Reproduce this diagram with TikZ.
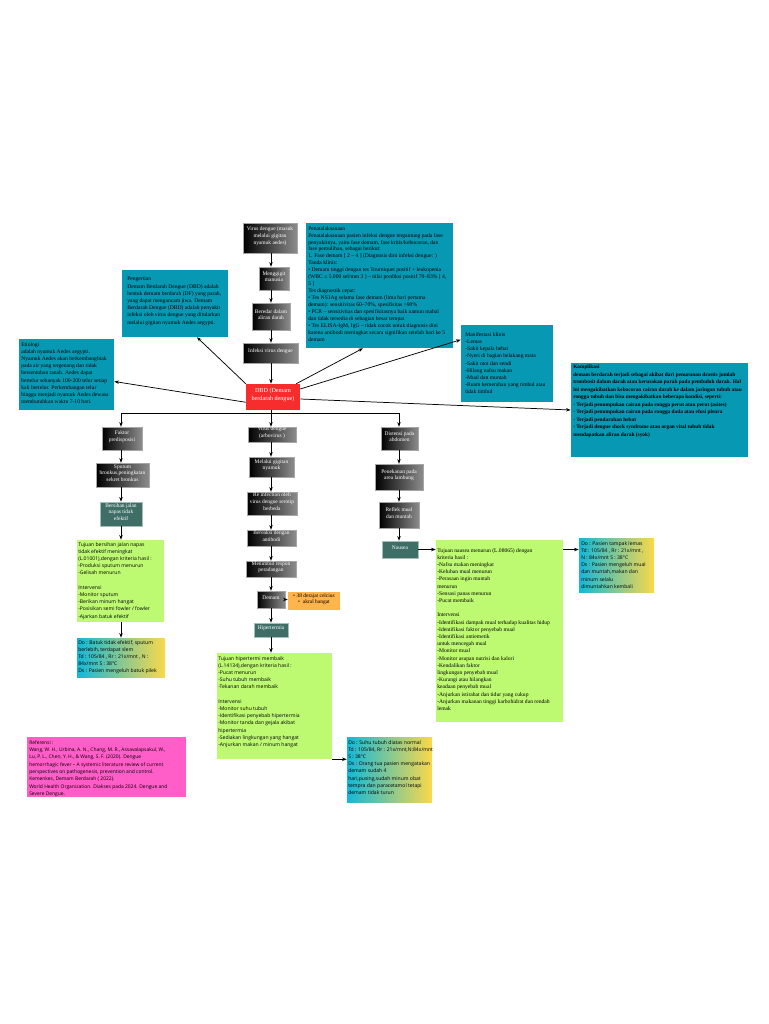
\documentclass[tikz,border=0pt]{standalone}
\usepackage{fontspec}
\setmainfont{Liberation Serif}
\newfontfamily\osans{Open Sans}
\usetikzlibrary{fit,calc,arrows.meta}
\definecolor{tealc}{HTML}{0799B4}
\definecolor{limec}{HTML}{BDFA72}
\definecolor{cyanc}{HTML}{14B8D8}
\definecolor{yelc}{HTML}{FBD84A}
\definecolor{tgc}{HTML}{3F6E66}
\definecolor{tgb}{HTML}{A7BDB8}
\definecolor{redc}{HTML}{F72C2C}
\definecolor{orc}{HTML}{FFB44C}
\definecolor{pinkc}{HTML}{FF5DC8}
\newcommand\fs{\fontsize{4.2}{5.4}\selectfont}
\newcommand\fd{\fontsize{4.1}{5.0}\selectfont}
\newcommand\fp{\fontsize{4.2}{5.2}\selectfont}
\newcommand\fk{\fontsize{4.0}{5.6}\selectfont\bfseries}
\newcommand\fo{\osans\fontsize{3.8}{5.4}\selectfont}
\begin{document}
\begin{tikzpicture}[x=0.75pt,y=-0.75pt,
  darkbox/.style={inner sep=0, left color=black, right color=black!45, draw=black!35, line width=0.3pt, text=white, align=center, font=\fd},
  tealbox/.style={inner sep=0, fill=tealc},
  limebox/.style={inner sep=0, fill=limec},
  gradbox/.style={inner sep=0, left color=cyanc, right color=yelc},
  tgbox/.style={inner sep=0, fill=tgc, draw=tgb, line width=0.4pt, text=white, align=center, font=\fd},
  txt/.style={anchor=north west, inner sep=0, align=left},
  arr/.style={-{Stealth[length=3.5pt,width=2.6pt]}, line width=0.55pt},
  ln/.style={line width=0.55pt}]
\fill[white] (0,0) rectangle (768,1024);
\useasboundingbox (0,0) rectangle (768,1024);
\coordinate (cx) at (271,0);
\coordinate (lx) at (121,0);
\coordinate (rx) at (399,0);
\coordinate (hy) at (0,413);

% top chain
\node[darkbox, align=left, fit={(243,223)(297,253)}] (v1) {Virus dengue (masuk\\melalui gigitan\\nyamuk aedes)};
\node[darkbox, fit={(259,267)(289,290)}] (v2) {Menggigit\\manusia};
\node[darkbox, fit={(252,303)(290,330)}] (v3) {Beredar dalam\\aliran darah};
\node[darkbox, fit={(243,343)(298,363)}] (v4) {Infeksi virus dengue};
\node[inner sep=0, fill=redc, text=white, align=center, font=\fontsize{4.6}{5.6}\selectfont, fit={(246,384)(300,410)}] (dbd) {DBD (Demam\\berdarah dengue)};

% info boxes
\node[tealbox, fit={(306,223)(453,348)}] (pem) {};
\node[txt, font=\fp] (tpem) at (308,226) {Penatalaksanaan\\
Penatalaksanaan pasien infeksi dengue tergantung pada fase\\
penyakitnya, yaitu fase demam, fase kritis/kebocoran, dan\\
fase pemulihan, sebagai berikut:\\
1. Fase demam [ 2 – 4 ] (Diagnosis dini infeksi dengue: )\\
Tanda klinis:\\
• Demam tinggi dengan tes Tourniquet positif + leukopenia\\
(WBC ≤ 5.000 sel/mm 3 ) – nilai prediksi positif 70–83\% [ 4,\\
5 ]\\
Tes diagnostik cepat:\\
• Tes NS1Ag selama fase demam (lima hari pertama\\
demam): sensitivitas 60–70\%, spesifisitas >90\%\\
• PCR – sensitivitas dan spesifisitasnya baik namun mahal\\
dan tidak tersedia di sebagian besar tempat\\
• Tes ELISA-IgM, IgG – tidak cocok untuk diagnosis dini\\
karena antibodi meningkat secara signifikan setelah hari ke 5\\
demam};

\node[tealbox, fit={(122,270)(228,337)}] (peng) {};
\node[txt, font=\fs] (tpeng) at (127,277) {Pengertian\\
Demam Berdarah Dengue (DBD) adalah\\
bentuk demam berdarah (DF) yang parah,\\
yang dapat mengancam jiwa. Demam\\
Berdarah Dengue (DBD) adalah penyakit\\
infeksi oleh virus dengue yang ditularkan\\
melalui gigitan nyamuk Aedes aegypti.};

\node[tealbox, fit={(19,339)(114,410)}] (etio) {};
\node[txt, font=\fs] (tetio) at (21,342) {Etiologi\\
adalah nyamuk Aedes aegypti.\\
Nyamuk Aedes akan berkembangbiak\\
pada air yang tergenang dan tidak\\
bersentuhan tanah. Aedes dapat\\
bertelur sebanyak 100-200 telur setiap\\
kali bertelur. Perkembangan telur\\
hingga menjadi nyamuk Aedes dewasa\\
membutuhkan waktu 7-10 hari.};

\node[tealbox, fit={(461,325)(553,402)}] (man) {};
\node[txt, font=\fs] (tman) at (465,332) {Manifestasi klinis\\
-Lemas\\
-Sakit kepala hebat\\
-Nyeri di bagian belakang mata\\
-Sakit otot dan sendi\\
-Hilang nafsu makan\\
-Mual dan muntah\\
-Ruam kemerahan yang timbul atau\\
tidak timbul};

\node[tealbox, fit={(571,363)(748,457)}] (kom) {};
\node[txt, font=\fk] (tkom) at (573,365) {Komplikasi\\
demam berdarah terjadi sebagai akibat dari penurunan drastis jumlah\\
trombosit dalam darah atau kerusakan parah pada pembuluh darah. Hal\\
ini mengakibatkan kebocoran cairan darah ke dalam jaringan tubuh atau\\
rongga tubuh dan bisa mengakibatkan beberapa kondisi, seperti:\\
· Terjadi penumpukan cairan pada rongga perut atau perut (asites)\\
· Terjadi penumpukan cairan pada rongga dada atau efusi pleura\\
· Terjadi pendarahan hebat\\
· Terjadi dengue shock syndrome atau organ vital tubuh tidak\\
mendapatkan aliran darah (syok)};

% left column
\node[darkbox, fit={(102,427)(142,450)}] (f1) {Faktor\\predisposisi};
\node[darkbox, fit={(96,463)(149,487)}] (f2) {Sputum\\bronkus,peningkatan\\sekret bronkus};
\node[tgbox, fit={(100,502)(142,526)}] (f3) {Bersihan jalan\\napas tidak\\efektif};
\node[limebox, fit={(77,540)(164,622)}] (g1) {};
\node[txt, font=\fo] (tg1) at (78,542) {Tujuan bersihan jalan napas\\
tidak efektif meningkat\\
(L.01001),dengan kriteria hasil :\\
-Produksi sputum menurun\\
-Gelisah menurun\\[5.4pt]
Intervensi\\
-Monitor sputum\\
-Berikan minum hangat\\
-Posisikan semi fowler / fowler\\
-Ajarkan batuk efektif};
\node[gradbox, fit={(77,638)(165,677)}] (d1) {};
\node[txt, font=\fo] (td1) at (78,640) {Do : Batuk tidak efektif, sputum\\
berlebih, terdapat slem\\
Td : 105/84 , Rr : 21x/mnt , N :\\
84x/mnt S : 38°C\\
Ds : Pasien mengeluh batuk pilek};

% middle column
\node[darkbox, fit={(248,427)(296,442)}] (m1) {Virus dengue\\(arbovirus )};
\node[darkbox, fit={(249,457)(294,477)}] (m2) {Melalui gigitan\\nyamuk};
\node[darkbox, fit={(247,492)(297,515)}] (m3) {Re infection oleh\\virus dengue serotip\\berbeda};
\node[darkbox, fit={(247,530)(296,546)}] (m4) {Bereaksi dengan\\antibodi};
\node[darkbox, fit={(246,561)(296,577)}] (m5) {Menimbul respon\\peradangan};
\node[darkbox, fit={(257,591)(285,608)}] (m6) {Demam};
\node[inner sep=0, fill=orc, align=center, font=\fd, fit={(288,592)(340,610)}] (or1) {• 38 derajat celcius\\• \ akral hangat};
\node[tgbox, fit={(254,623)(288,637)}] (m7) {Hipertermia};
\node[limebox, fit={(217,653)(332,759)}] (g2) {};
\node[txt, font=\fo] (tg2) at (218,656) {Tujuan hipertermi membaik\\
(L.14134),dengan kriteria hasil :\\
-Pucat menurun\\
-Suhu tubuh membaik\\
-Tekanan darah membaik\\[5.4pt]
Intervensi\\
-Monitor suhu tubuh\\
-Identifikasi penyebab hipertermia\\
-Monitor tanda dan gejala akibat\\
hipertermia\\
-Sediakan lingkungan yang hangat\\
-Anjurkan makan / minum hangat};
\node[gradbox, fit={(347,737)(432,802)}] (d2) {};
\node[txt, font=\fo] (td2) at (348,740) {Do : Suhu tubuh diatas normal\\
Td : 105/84, Rr : 21x/mnt,N:84x/mnt\\
S : 38°C\\
Ds : Orang tua pasien mengatakan\\
demam sudah 4\\
hari,pusing,sudah minum obat\\
tempra dan paracetamol tetapi\\
demam tidak turun};

% right column
\node[darkbox, fit={(381,427)(418,450)}] (r1) {Distensi pada\\abdomen};
\node[darkbox, fit={(375,464)(423,490)}] (r2) {Penekanan pada\\area lambung};
\node[darkbox, fit={(379,502)(419,528)}] (r3) {Reflek mual\\dan muntah};
\node[tgbox, fit={(382,541)(418,558)}] (r4) {Nausea};
\node[limebox, fit={(436,540)(563,722)}] (g3) {};
\node[txt, font=\fs] (tg3) at (437,548) {Tujuan nausea menurun (L.08065) dengan\\
kriteria hasil :\\
-Nafsu makan meningkat\\
-Keluhan mual menurun\\
-Perasaan ingin muntah\\
menurun\\
-Sensasi panas menurun\\
-Pucat membaik\\[5.4pt]
Intervensi\\
-Identifikasi dampak mual terhadap kualitas hidup\\
-Identifikasi faktor penyebab mual\\
-Identifikasi antiemetik\\
untuk mencegah mual\\
-Monitor mual\\
-Monitor asupan nutrisi dan kalori\\
-Kendalikan faktor\\
lingkungan penyebab mual\\
-Kurangi atau hilangkan\\
keadaan penyebab mual\\
-Anjurkan istirahat dan tidur yang cukup\\
-Anjurkan makanan tinggi karbohidrat dan rendah\\
lemak};
\node[gradbox, fit={(579,538)(654,592)}] (d3) {};
\node[txt, font=\fo] (td3) at (581,541) {Do : Pasien tampak lemas\\
Td : 105/84 , Rr : 21x/mnt ,\\
N : 84x/mnt S : 38°C\\
Ds : Pasien mengeluh mual\\
dan muntah,makan dan\\
minum selalu\\
dimuntahkan kembali};

% referensi
\node[inner sep=0, fill=pinkc, fit={(27,737)(186,797)}] (ref) {};
\node[txt, font=\osans\fontsize{3.7}{5.5}\selectfont] (tref) at (29,740) {Referensi :\\
Wang, W. H., Urbina, A. N., Chang, M. R., Assavalapsakul, W.,\\
Lu, P. L., Chen, Y. H., \& Wang, S. F. (2020). Dengue\\
hemorrhagic fever – A systemic literature review of current\\
perspectives on pathogenesis, prevention and control.\\
Kemenkes, Demam Berdarah ( 2022).\\
World Health Organization. Diakses pada 2024. Dengue and\\
Severe Dengue.};

% connectors: top chain
\draw[arr] (v1.south -| cx) -- (v2.north -| cx);
\draw[arr] (v2.south -| cx) -- (v3.north -| cx);
\draw[arr] (v3.south -| cx) -- (v4.north -| cx);
\draw[arr] (v4.south -| cx) -- (dbd.north -| cx);
% from DBD
\draw[arr] (dbd.north west) -- ($(peng.south)+(22,0)$);
\draw[arr] ($(dbd.south west)+(0,-8)$) -- ($(etio.east)+(0,7)$);
\draw[arr] ($(dbd.north east)+(-4,0)$) -- ($(pem.south)+(-16.5,0)$);
\draw[arr] ($(dbd.east)+(0,-8)$) -- ($(man.north west)+(0,15)$);
\draw[arr] ($(dbd.east)+(0,2)$) -- (kom.west);
% branch
\draw[ln] (dbd.south -| cx) -- (cx |- hy);
\draw[ln] (lx |- hy) -- (rx |- hy);
\draw[arr] (lx |- hy) -- (f1.north -| lx);
\draw[arr] (cx |- hy) -- (m1.north -| cx);
\draw[arr] (rx |- hy) -- (r1.north -| rx);
% left column
\draw[arr] (f1.south -| lx) -- (f2.north -| lx);
\draw[arr] (f2.south -| lx) -- (f3.north -| lx);
\draw[arr] (f3.south -| lx) -- (g1.north -| lx);
\draw[arr] (g1.south -| lx) -- (d1.north -| lx);
% middle column
\draw[arr] (m1.south -| cx) -- (m2.north -| cx);
\draw[arr] (m2.south -| cx) -- (m3.north -| cx);
\draw[arr] (m3.south -| cx) -- (m4.north -| cx);
\draw[arr] (m4.south -| cx) -- (m5.north -| cx);
\draw[arr] (m5.south -| cx) -- (m6.north -| cx);
\draw[arr] (m6.east) -- (m6.east -| or1.west);
\draw[arr] (m6.south -| cx) -- (m7.north -| cx);
\draw[arr] (m7.south -| cx) -- (g2.north -| cx);
\draw[arr] (g2.south east) -- (g2.south east -| d2.west);
% right column
\draw[arr] (r1.south -| rx) -- (r2.north -| rx);
\draw[arr] (r2.south -| rx) -- (r3.north -| rx);
\draw[arr] (r3.south -| rx) -- (r4.north -| rx);
\draw[arr] (r4.east) -- (r4.east -| g3.west);
\draw[arr] (g3.east |- r4.east) -- (d3.west |- r4.east);
\end{tikzpicture}
\end{document}
